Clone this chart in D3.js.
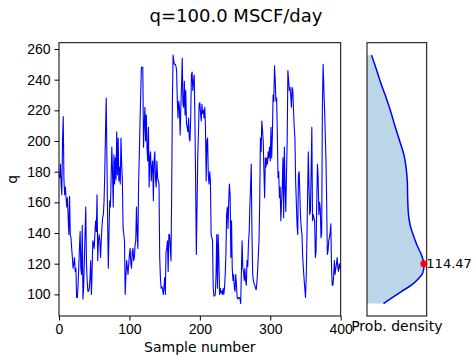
<!DOCTYPE html>
<html>
<head>
<meta charset="utf-8">
<script src="https://cdn.jsdelivr.net/npm/d3@7.9.0/dist/d3.min.js"></script>
<style>
  html, body { margin: 0; padding: 0; background: #fff; }
  svg { display: block; font-family: "DejaVu Sans", sans-serif; }
  .tick line { stroke: #000; }
  .tick text { font-size: 14px; fill: #000; }
</style>
</head>
<body>
<div id="chart"></div>
<script>
// Chart values
const titleText = 'q=100.0 MSCF/day';
const xLabelText = 'Sample number';
const yLabelText = 'q';
const densityLabelText = 'Prob. density';

const xTicks = [0, 100, 200, 300, 400];
const yTicks = [100, 120, 140, 160, 180, 200, 220, 240, 260];

// q per sample (0..399)
const sampleValues = [
  178,176,185,172,165,200,216,175,165,170,163,157,163,150,139,164,139,137,130,124,
  117,120,124,115,117,98,98,105,117,130,141,117,113,145,97,105,122,140,157,120,
  109,102,102,104,110,122,100,115,135,133,130,140,148,141,165,122,135,139,135,124,
  135,144,150,152,161,180,205,228,190,150,117,140,161,157,175,196,180,157,191,172,
  189,175,206,178,202,174,183,172,202,185,174,143,139,135,100,112,122,118,113,120,
  126,130,120,117,128,130,122,124,132,135,157,140,130,172,190,211,230,248,248,248,
  196,210,222,200,217,195,187,209,170,189,193,174,183,187,161,187,193,176,170,187,
  176,174,172,124,111,104,105,104,100,104,111,100,128,130,135,115,139,139,130,122,
  167,226,256,252,250,250,249,246,226,215,226,222,204,222,236,254,224,222,239,217,
  233,211,209,206,215,202,200,215,243,245,233,239,243,213,174,126,157,189,205,224,
  225,218,213,224,218,220,215,222,209,174,200,202,178,172,180,174,139,137,135,104,
  99,99,100,113,139,104,139,124,100,104,101,102,100,104,100,104,113,126,152,157,
  143,161,172,165,124,148,117,109,113,104,102,113,106,98,97,98,98,97,94,115,
  135,117,115,109,117,109,106,122,118,133,140,157,170,185,140,113,109,107,106,104,
  103,108,115,125,135,160,202,193,213,207,200,180,163,189,183,189,185,193,189,196,
  187,209,189,204,230,226,249,240,226,228,206,176,180,163,170,148,160,170,189,150,
  196,170,154,178,200,246,240,233,235,230,222,235,233,220,209,202,174,160,145,139,
  178,180,165,150,143,139,125,117,110,104,98,110,135,165,193,170,152,154,180,209,
  148,152,150,148,124,128,160,185,176,152,160,156,137,140,222,250,235,222,205,189,
  163,126,128,135,137,140,146,117,106,106,112,122,113,117,120,124,117,115,120,117
];

// density curve: q level and relative density (peak = 1)
const densityQ = [256, 245, 237, 230, 220, 210, 200, 191, 182, 173, 163, 152, 145, 139, 132, 126, 120, 114, 110, 106, 102, 98, 94];
const densityVal = [0.08, 0.18, 0.25, 0.32, 0.41, 0.49, 0.575, 0.65, 0.69, 0.71, 0.715, 0.73, 0.76, 0.81, 0.88, 0.955, 1.0, 0.98, 0.9, 0.78, 0.61, 0.45, 0.29];

const modeQ = 120;
const modeDensity = 1.0;
const modeLabel = '114.47';

function renderChart() {
  const width = 474;
  const height = 355;

  const main = { left: 59, right: 340.7, top: 42.7, bottom: 316 };
  const side = { left: 367, right: 426.7, top: 42.7, bottom: 316 };

  const svg = d3.select('#chart')
    .append('svg')
    .attr('width', width)
    .attr('height', height);

  const [qMin, qMax] = d3.extent(sampleValues);
  const pad = (qMax - qMin) * 0.05;

  const yScale = d3.scaleLinear()
    .domain([qMin - pad, qMax + pad])
    .range([main.bottom, main.top]);

  const xScale = d3.scaleLinear()
    .domain([0, 400])
    .range([main.left, main.right]);

  const dScale = d3.scaleLinear()
    .domain([0, 1.05])
    .range([side.left, side.right]);

  // main series
  const line = d3.line()
    .x((d, i) => xScale(i))
    .y(d => yScale(d));

  svg.append('path')
    .datum(sampleValues)
    .attr('d', line)
    .attr('fill', 'none')
    .attr('stroke', '#0000ff')
    .attr('stroke-width', 1.1)
    .attr('stroke-linejoin', 'round');

  // axes of the main plot
  svg.append('g')
    .attr('transform', `translate(0, ${main.bottom})`)
    .call(d3.axisBottom(xScale).tickValues(xTicks).tickSize(4.5).tickPadding(4).tickSizeOuter(0));

  svg.append('g')
    .attr('transform', `translate(${main.left}, 0)`)
    .call(d3.axisLeft(yScale).tickValues(yTicks).tickSize(4.5).tickPadding(4).tickSizeOuter(0));

  svg.selectAll('.domain').remove();

  svg.append('rect')
    .attr('x', main.left)
    .attr('y', main.top)
    .attr('width', main.right - main.left)
    .attr('height', main.bottom - main.top)
    .attr('fill', 'none')
    .attr('stroke', '#000')
    .attr('stroke-width', 1);

  // density panel
  const densityPts = densityQ.map((q, i) => ({ q, v: densityVal[i] }));

  const area = d3.area()
    .y(d => yScale(d.q))
    .x0(dScale(0))
    .x1(d => dScale(d.v))
    .curve(d3.curveCatmullRom);

  svg.append('path')
    .datum(densityPts)
    .attr('d', area)
    .attr('fill', 'rgba(31,119,180,0.3)');

  const dLine = d3.line()
    .y(d => yScale(d.q))
    .x(d => dScale(d.v))
    .curve(d3.curveCatmullRom);

  svg.append('path')
    .datum(densityPts)
    .attr('d', dLine)
    .attr('fill', 'none')
    .attr('stroke', '#0000ff')
    .attr('stroke-width', 1.5);

  svg.append('rect')
    .attr('x', side.left)
    .attr('y', side.top)
    .attr('width', side.right - side.left)
    .attr('height', side.bottom - side.top)
    .attr('fill', 'none')
    .attr('stroke', '#000')
    .attr('stroke-width', 1);

  svg.append('circle')
    .attr('cx', dScale(modeDensity))
    .attr('cy', yScale(modeQ))
    .attr('r', 3.5)
    .attr('fill', '#ff0000');

  svg.append('text')
    .attr('x', dScale(modeDensity) + 2.5)
    .attr('y', yScale(modeQ) + 4.5)
    .attr('font-size', 13)
    .attr('fill', '#000')
    .text(modeLabel);

  // labels
  svg.append('text')
    .attr('x', 236)
    .attr('y', 22)
    .attr('text-anchor', 'middle')
    .attr('font-size', 18)
    .attr('fill', '#000')
    .text(titleText);

  svg.append('text')
    .attr('x', (main.left + main.right) / 2)
    .attr('y', 352)
    .attr('text-anchor', 'middle')
    .attr('font-size', 14)
    .attr('fill', '#000')
    .text(xLabelText);

  svg.append('text')
    .attr('transform', `translate(17, ${(main.top + main.bottom) / 2}) rotate(-90)`)
    .attr('text-anchor', 'middle')
    .attr('font-size', 14)
    .attr('fill', '#000')
    .text(yLabelText);

  svg.append('text')
    .attr('x', (side.left + side.right) / 2)
    .attr('y', 331)
    .attr('text-anchor', 'middle')
    .attr('font-size', 14)
    .attr('fill', '#000')
    .text(densityLabelText);
}

renderChart();
</script>
</body>
</html>
